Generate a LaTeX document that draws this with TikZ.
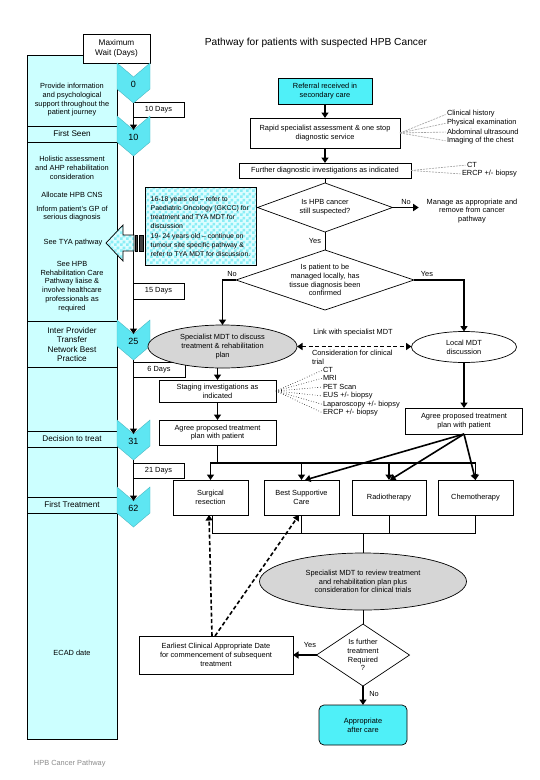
\documentclass[tikz,border=0pt]{standalone}
\usepackage{fontspec}
\setmainfont{Liberation Sans}
\usetikzlibrary{shapes.geometric,arrows.meta,patterns}
\pgfdeclarepatternformonly{bigcheck}{\pgfpointorigin}{\pgfqpoint{6pt}{6pt}}{\pgfqpoint{6pt}{6pt}}{%
 \pgfpathrectangle{\pgfpointorigin}{\pgfqpoint{3pt}{3pt}}%
 \pgfpathrectangle{\pgfqpoint{3pt}{3pt}}{\pgfqpoint{3pt}{3pt}}%
 \pgfusepath{fill}}
\definecolor{chev}{HTML}{5EE6F2}
\definecolor{refcol}{HTML}{4FF0F8}
\definecolor{colbg}{HTML}{CCFFFF}
\definecolor{ellg}{HTML}{D6D6D6}
\definecolor{chkA}{HTML}{DDFDFF}
\definecolor{chkB}{HTML}{8AEEF6}
\definecolor{lgray}{HTML}{A0A0A0}
\begin{document}
\begin{tikzpicture}[x=1pt,y=-1pt,
  every node/.style={inner sep=0pt, outer sep=0pt, font=\fontsize{7.4}{8.7}\selectfont, align=center},
  box/.style={draw, line width=0.7pt, fill=white},
  big/.style={font=\fontsize{8.2}{9.6}\selectfont},
  arr/.style={line width=1.6pt, -{Triangle[length=5.5pt,width=7pt]}},
  thk/.style={line width=1.6pt},
  thn/.style={line width=0.7pt},
  dsh/.style={line width=1.6pt, dash pattern=on 4pt off 2.5pt},
  gline/.style={lgray, line width=0.6pt, dash pattern=on 2pt off 1pt, shorten >=1.5pt},
  dline/.style={black, line width=0.6pt, dotted, shorten >=1pt},
  chevs/.style={fill=chev, draw=chev!80!black, line width=0.4pt},
  chk/.style={draw, line width=0.7pt, preaction={fill=chkA}, pattern=bigcheck, pattern color=chkB},
]
\useasboundingbox (0,0) rectangle (540,780);
\fill[white] (0,0) rectangle (540,780);

% left column
\draw[fill=colbg, line width=0.7pt] (27,55) rectangle (117,739);
\foreach \yy in {126,142,321,367,431,447,497,513} \draw[line width=0.7pt] (27,\yy) -- (117,\yy);
\node (lc1) at (72,100) {Provide information\\and psychological\\support throughout the\\patient journey};
\node[big] (lc2) at (72,134) {First Seen};
\node (lc3) at (72,168) {Holistic assessment\\and AHP rehabilitation\\consideration};
\node (lc4) at (72,195) {Allocate HPB CNS};
\node (lc5) at (72,213.5) {Inform patient's GP of\\serious diagnosis};
\node (lc6) at (73,243) {See TYA pathway};
\node (lc7) at (72,286.5) {See HPB\\Rehabilitation Care\\Pathway liaise \&\\involve healthcare\\professionals as\\required};
\node[big] (lc8) at (72,344.5) {Inter Provider\\Transfer\\Network Best\\Practice};
\node[big] (lc9) at (72,439) {Decision to treat};
\node[big] (lc10) at (72,505) {First Treatment};
\node (lc11) at (72,653) {ECAD date};
\node[box, big, minimum width=67pt, minimum height=29pt] (mw) at (116.5,48.5) {Maximum\\Wait (Days)};

% day boxes
\node[box, minimum width=51pt, minimum height=15pt] (d10) at (158.5,109.5) {10 Days};
\node[box, minimum width=51pt, minimum height=16pt] (d15) at (158.5,291) {15 Days};
\node[box, minimum width=52pt, minimum height=15pt] (d6) at (159,369.5) {6 Days};
\node[box, minimum width=51pt, minimum height=15pt] (d21) at (158.5,470.5) {21 Days};

% chevrons
\foreach \t/\lab/\nm in {63/0/c0,116/10/c10,320/25/c25,420/31/c31,487/62/c62} {
  \draw[chevs] (117,\t) -- (133.5,\t+14) -- (150,\t) -- (150,\t+26) -- (133.5,\t+40) -- (117,\t+26) -- cycle;
  \node[font=\fontsize{9}{10}\selectfont] (\nm) at (133.5,\t+21.5) {\lab};
  \coordinate (\nm n) at (133.5,\t+14);
  \coordinate (\nm b) at (133.5,\t+40);
}
\draw[arr] (c0b) -- (c10n);
\draw[arr] (c10b) -- (c25n);
\draw[arr] (c25b) -- (c31n);
\draw[arr] (c31b) -- (c62n);

% TYA
\node[chk, minimum width=111pt, minimum height=78pt, align=left, font=\fontsize{6.9}{9.1}\selectfont] (tya) at (200.5,226.5) {16-18 years old – refer to\\Paediatric Oncology (GKCC) for\\treatment and TYA MDT for\\discussion\\19- 24 years old – continue on\\tumour site specific pathway \&\\refer to TYA MDT for discussion.};
\draw[chk] (134,235) -- (123,235) -- (123,225) -- (106,243) -- (123,261) -- (123,251) -- (134,251) -- cycle;
\draw[line width=0.6pt, fill=black!75] (135.5,235) rectangle (137.5,251);
\draw[line width=0.6pt, fill=black!75] (139,235) rectangle (143,251);

% title
\node[font=\fontsize{10.2}{12}\selectfont] (title) at (316,43) {Pathway for patients with suspected HPB Cancer};

% main flow
\node[box, fill=refcol, minimum width=94pt, minimum height=26pt] (ref) at (325,91) {Referral received in\\secondary care};
\node[box, minimum width=150pt, minimum height=30pt] (rapid) at (325,133) {Rapid specialist assessment \& one stop\\diagnostic service};
\node[box, minimum width=172pt, minimum height=15pt] (further) at (325,170.5) {Further diagnostic investigations as indicated};
\draw[arr] (ref.south) -- (rapid.north);
\draw[arr] (rapid.south) -- (further.north);

\foreach \yy/\tx/\nm in {114/Clinical history/ri1, 123/Physical examination/ri2, 132/Abdominal ultrasound/ri3, 141/Imaging of the chest/ri4} {
  \node[anchor=west] (\nm) at (447,\yy) {\tx};
  \draw[gline] (rapid.east) -- (\nm.west);
}
\node[anchor=west] (fi1) at (467,165) {CT};
\node[anchor=west] (fi2) at (462,174) {ERCP +/- biopsy};
\draw[gline] (further.east) -- (fi1.west);
\draw[gline] (further.east) -- (fi2.west);

\node[draw, line width=0.7pt, shape=diamond, aspect=2.75, minimum width=135pt, minimum height=49pt] (dq1) at (325,207.5) {Is HPB cancer\\still suspected?};
\draw[thn] (further.south) -- (dq1.north);
\node (manage) at (472,211) {Manage as appropriate and\\remove from cancer\\pathway};
\draw[arr, shorten >=8pt] (dq1.east) -- (dq1.east -| manage.west);
\node (lno1) at (406,202) {No};

\node[draw, line width=0.7pt, shape=diamond, aspect=2.97, minimum width=178pt, minimum height=60pt] (dq2) at (325,280) {Is patient to be\\managed locally, has\\tissue diagnosis been\\confirmed};
\draw[thn] (dq1.south) -- (dq2.north);
\node (lyes1) at (315,241) {Yes};
\node (lno2) at (232,274) {No};
\node (lyes2) at (427,274) {Yes};

\node[draw, ellipse, fill=ellg, line width=0.7pt, minimum width=149pt, minimum height=43pt] (smdt) at (222.5,346.5) {Specialist MDT to discuss\\treatment \& rehabilitation\\plan};
\node[draw, ellipse, fill=white, line width=0.7pt, minimum width=105pt, minimum height=31pt] (lmdt) at (464,347) {Local MDT\\discussion};
\draw[arr] (dq2.west) -| (smdt.north);
\draw[arr] (dq2.east) -| (lmdt.north);
\draw[dsh, {Triangle[length=5.5pt,width=7pt]}-{Triangle[length=5.5pt,width=7pt]}] (smdt.east) -- (smdt.east -| lmdt.west);
\node (link) at (353,333) {Link with specialist MDT};
\node[anchor=north west, align=left] (cons) at (312,350.5) {Consideration for clinical\\trial};

\node[box, minimum width=117pt, minimum height=22pt] (stg) at (217.5,391) {Staging investigations as\\indicated};
\draw[arr] (stg.north |- smdt.south) -- (stg.north);
\foreach \yy/\tx/\nm in {370/CT/si1, 378/MRI/si2, 387/PET Scan/si3, 396/{EUS +/- biopsy}/si4, 404.5/{Laparoscopy +/- biopsy}/si5, 413/{ERCP +/- biopsy}/si6} {
  \node[anchor=west] (\nm) at (323,\yy) {\tx};
  \draw[dline] (stg.east) -- (\nm.west);
}

\node[box, minimum width=117pt, minimum height=25pt] (agL) at (217.5,432.5) {Agree proposed treatment\\plan with patient};
\draw[arr] (stg.south) -- (agL.north);
\node[box, minimum width=117pt, minimum height=26pt] (agR) at (464,421) {Agree proposed treatment\\plan with patient};
\draw[arr] (lmdt.south) -- (agR.north);

\node[box, minimum width=75pt, minimum height=35pt] (surg) at (210.5,497.5) {Surgical\\resection};
\node[box, minimum width=75pt, minimum height=35pt] (bsc) at (301.5,497.5) {Best Supportive\\Care};
\node[box, minimum width=74pt, minimum height=35pt] (radio) at (389,497.5) {Radiotherapy};
\node[box, minimum width=75pt, minimum height=35pt] (chemo) at (475.5,497.5) {Chemotherapy};

\coordinate (busT) at (0,463);
\draw[thk] (agL.south) -- (agL.south |- busT);
\draw[thk, line cap=rect] (surg.north |- busT) -- (chemo.north |- busT);
\foreach \n in {surg,bsc,radio,chemo} \draw[arr] (\n.north |- busT) -- (\n.north);
\draw[arr] (agR.south) -- ([xshift=3.5pt]bsc.north);
\draw[arr] (agR.south) -- ([xshift=1pt]radio.north);
\draw[arr] (agR.south) -- (chemo.north);

\node[draw, ellipse, fill=ellg, line width=0.7pt, minimum width=207pt, minimum height=57pt] (rmdt) at (363,581.5) {Specialist MDT to review treatment\\and rehabilitation plan plus\\consideration for clinical trials};
\coordinate (busB) at (0,533);
\draw[thn] ([xshift=2pt]surg.south) -- ([xshift=2pt]surg.south |- busB) -- (chemo.south |- busB) -- (chemo.south);
\draw[thn] (bsc.south) -- (bsc.south |- busB);
\draw[thn] (radio.south) -- (radio.south |- busB);
\draw[thn] (rmdt.north |- busB) -- (rmdt.north);

\node[draw, line width=0.7pt, shape=diamond, aspect=1.5, minimum width=93pt, minimum height=62pt] (dq3) at (363,655) {Is further\\treatment\\Required\\?};
\draw[thn] (rmdt.south) -- (dq3.north);
\node[box, minimum width=154pt, minimum height=38pt] (ecad) at (216,655) {Earliest Clinical Appropriate Date\\for commencement of subsequent\\treatment};
\draw[arr] (dq3.west) -- (ecad.east);
\node (lyes3) at (310,645) {Yes};
\node[draw, line width=0.7pt, rounded corners=5pt, fill=refcol, minimum width=88pt, minimum height=40pt] (after) at (363,725) {Appropriate\\after care};
\draw[arr] (dq3.south) -- (after.north);
\node (lno3) at (374,694) {No};

\draw[dsh, -{Triangle[length=5.5pt,width=7pt]}] ([xshift=-4pt]ecad.north) -- ([xshift=-1.5pt]surg.south);
\draw[dsh, -{Triangle[length=5.5pt,width=7pt]}] ([xshift=-1pt]ecad.north) -- ([xshift=-2.5pt]bsc.south);

\node[anchor=west, text=black!45] (foot) at (34,764) {HPB Cancer Pathway};
\end{tikzpicture}
\end{document}
